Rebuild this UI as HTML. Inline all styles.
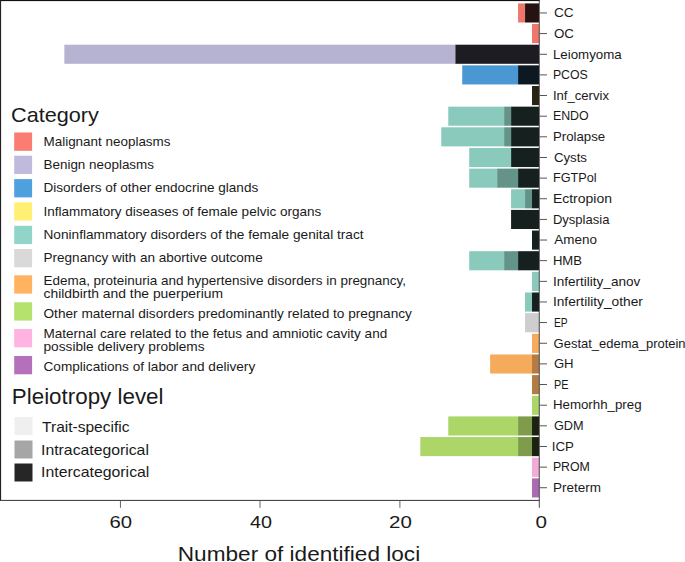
<!DOCTYPE html><html><head><meta charset="utf-8"><style>html,body{margin:0;padding:0;background:#fff;overflow:hidden;width:685px;height:562px;}svg{display:block;}text{font-family:"Liberation Sans",sans-serif;fill:#1a1a1a;}</style></head><body>
<svg width="685" height="562" viewBox="0 0 685 562">
<rect x="525.04" y="3.40" width="13.96" height="19.1" fill="#261311"/>
<rect x="518.06" y="3.40" width="6.98" height="19.1" fill="#ee766a"/>
<text x="553.90" y="17.26" font-size="13.4" textLength="19.70" lengthAdjust="spacingAndGlyphs">CC</text>
<rect x="539.6" y="12.51" width="7.4" height="0.9" fill="#444"/>
<rect x="532.02" y="24.05" width="6.98" height="19.1" fill="#ee766a"/>
<text x="553.90" y="37.90" font-size="13.4" textLength="20.00" lengthAdjust="spacingAndGlyphs">OC</text>
<rect x="539.6" y="33.15" width="7.4" height="0.9" fill="#444"/>
<rect x="455.24" y="44.70" width="83.76" height="19.1" fill="#1d1c22"/>
<rect x="64.36" y="44.70" width="390.88" height="19.1" fill="#b6b2d2"/>
<text x="552.90" y="58.55" font-size="13.4" textLength="68.80" lengthAdjust="spacingAndGlyphs">Leiomyoma</text>
<rect x="539.6" y="53.80" width="7.4" height="0.9" fill="#444"/>
<rect x="518.06" y="65.35" width="20.94" height="19.1" fill="#0c1822"/>
<rect x="462.22" y="65.35" width="55.84" height="19.1" fill="#4a98d3"/>
<text x="552.90" y="79.19" font-size="13.4" textLength="34.90" lengthAdjust="spacingAndGlyphs">PCOS</text>
<rect x="539.6" y="74.44" width="7.4" height="0.9" fill="#444"/>
<rect x="532.02" y="86.00" width="6.98" height="19.1" fill="#282412"/>
<text x="552.90" y="99.83" font-size="13.4" textLength="56.10" lengthAdjust="spacingAndGlyphs">Inf_cervix</text>
<rect x="539.6" y="95.08" width="7.4" height="0.9" fill="#444"/>
<rect x="511.08" y="106.65" width="27.92" height="19.1" fill="#16201e"/>
<rect x="504.10" y="106.65" width="6.98" height="19.1" fill="#64938a"/>
<rect x="448.26" y="106.65" width="55.84" height="19.1" fill="#89cabd"/>
<text x="552.90" y="120.48" font-size="13.4" textLength="35.70" lengthAdjust="spacingAndGlyphs">ENDO</text>
<rect x="539.6" y="115.73" width="7.4" height="0.9" fill="#444"/>
<rect x="511.08" y="127.30" width="27.92" height="19.1" fill="#16201e"/>
<rect x="504.10" y="127.30" width="6.98" height="19.1" fill="#64938a"/>
<rect x="441.28" y="127.30" width="62.82" height="19.1" fill="#89cabd"/>
<text x="552.90" y="141.12" font-size="13.4" textLength="52.30" lengthAdjust="spacingAndGlyphs">Prolapse</text>
<rect x="539.6" y="136.37" width="7.4" height="0.9" fill="#444"/>
<rect x="511.08" y="147.95" width="27.92" height="19.1" fill="#16201e"/>
<rect x="469.20" y="147.95" width="41.88" height="19.1" fill="#89cabd"/>
<text x="553.90" y="161.76" font-size="13.4" textLength="33.10" lengthAdjust="spacingAndGlyphs">Cysts</text>
<rect x="539.6" y="157.01" width="7.4" height="0.9" fill="#444"/>
<rect x="518.06" y="168.60" width="20.94" height="19.1" fill="#16201e"/>
<rect x="497.12" y="168.60" width="20.94" height="19.1" fill="#64938a"/>
<rect x="469.20" y="168.60" width="27.92" height="19.1" fill="#89cabd"/>
<text x="552.90" y="182.40" font-size="13.4" textLength="43.70" lengthAdjust="spacingAndGlyphs">FGTPol</text>
<rect x="539.6" y="177.65" width="7.4" height="0.9" fill="#444"/>
<rect x="532.02" y="189.25" width="6.98" height="19.1" fill="#16201e"/>
<rect x="525.04" y="189.25" width="6.98" height="19.1" fill="#64938a"/>
<rect x="511.08" y="189.25" width="13.96" height="19.1" fill="#89cabd"/>
<text x="552.90" y="203.05" font-size="13.4" textLength="59.10" lengthAdjust="spacingAndGlyphs">Ectropion</text>
<rect x="539.6" y="198.30" width="7.4" height="0.9" fill="#444"/>
<rect x="511.08" y="209.90" width="27.92" height="19.1" fill="#16201e"/>
<text x="552.90" y="223.69" font-size="13.4" textLength="56.50" lengthAdjust="spacingAndGlyphs">Dysplasia</text>
<rect x="539.6" y="218.94" width="7.4" height="0.9" fill="#444"/>
<rect x="532.02" y="230.55" width="6.98" height="19.1" fill="#16201e"/>
<text x="554.30" y="244.33" font-size="13.4" textLength="42.60" lengthAdjust="spacingAndGlyphs">Ameno</text>
<rect x="539.6" y="239.58" width="7.4" height="0.9" fill="#444"/>
<rect x="518.06" y="251.20" width="20.94" height="19.1" fill="#16201e"/>
<rect x="504.10" y="251.20" width="13.96" height="19.1" fill="#64938a"/>
<rect x="469.20" y="251.20" width="34.90" height="19.1" fill="#89cabd"/>
<text x="552.90" y="264.98" font-size="13.4" textLength="29.10" lengthAdjust="spacingAndGlyphs">HMB</text>
<rect x="539.6" y="260.23" width="7.4" height="0.9" fill="#444"/>
<rect x="532.02" y="271.85" width="6.98" height="19.1" fill="#89cabd"/>
<text x="552.90" y="285.62" font-size="13.4" textLength="87.40" lengthAdjust="spacingAndGlyphs">Infertility_anov</text>
<rect x="539.6" y="280.87" width="7.4" height="0.9" fill="#444"/>
<rect x="532.02" y="292.50" width="6.98" height="19.1" fill="#16201e"/>
<rect x="525.04" y="292.50" width="6.98" height="19.1" fill="#89cabd"/>
<text x="552.90" y="306.26" font-size="13.4" textLength="90.00" lengthAdjust="spacingAndGlyphs">Infertility_other</text>
<rect x="539.6" y="301.51" width="7.4" height="0.9" fill="#444"/>
<rect x="525.04" y="313.15" width="13.96" height="19.1" fill="#cecece"/>
<text x="553.90" y="326.90" font-size="13.4" textLength="13.70" lengthAdjust="spacingAndGlyphs">EP</text>
<rect x="539.6" y="322.15" width="7.4" height="0.9" fill="#444"/>
<rect x="532.02" y="333.80" width="6.98" height="19.1" fill="#f6aa5c"/>
<text x="553.6" y="347.55" font-size="13.4" textLength="132" lengthAdjust="spacingAndGlyphs">Gestat_edema_protein</text>
<rect x="539.6" y="342.80" width="7.4" height="0.9" fill="#444"/>
<rect x="532.02" y="354.45" width="6.98" height="19.1" fill="#b47c43"/>
<rect x="490.14" y="354.45" width="41.88" height="19.1" fill="#f6aa5c"/>
<text x="553.90" y="368.19" font-size="13.4" textLength="19.70" lengthAdjust="spacingAndGlyphs">GH</text>
<rect x="539.6" y="363.44" width="7.4" height="0.9" fill="#444"/>
<rect x="532.02" y="375.10" width="6.98" height="19.1" fill="#b47c43"/>
<text x="553.90" y="388.83" font-size="13.4" textLength="14.50" lengthAdjust="spacingAndGlyphs">PE</text>
<rect x="539.6" y="384.08" width="7.4" height="0.9" fill="#444"/>
<rect x="532.02" y="395.75" width="6.98" height="19.1" fill="#acd668"/>
<text x="552.90" y="409.48" font-size="13.4" textLength="88.70" lengthAdjust="spacingAndGlyphs">Hemorhh_preg</text>
<rect x="539.6" y="404.73" width="7.4" height="0.9" fill="#444"/>
<rect x="532.02" y="416.40" width="6.98" height="19.1" fill="#1c2211"/>
<rect x="518.06" y="416.40" width="13.96" height="19.1" fill="#7e9c4c"/>
<rect x="448.26" y="416.40" width="69.80" height="19.1" fill="#acd668"/>
<text x="553.90" y="430.12" font-size="13.4" textLength="29.60" lengthAdjust="spacingAndGlyphs">GDM</text>
<rect x="539.6" y="425.37" width="7.4" height="0.9" fill="#444"/>
<rect x="532.02" y="437.05" width="6.98" height="19.1" fill="#1c2211"/>
<rect x="518.06" y="437.05" width="13.96" height="19.1" fill="#7e9c4c"/>
<rect x="420.34" y="437.05" width="97.72" height="19.1" fill="#acd668"/>
<text x="551.80" y="450.76" font-size="13.4" textLength="22.10" lengthAdjust="spacingAndGlyphs">ICP</text>
<rect x="539.6" y="446.01" width="7.4" height="0.9" fill="#444"/>
<rect x="532.02" y="457.70" width="6.98" height="19.1" fill="#f2aad6"/>
<text x="552.90" y="471.41" font-size="13.4" textLength="37.00" lengthAdjust="spacingAndGlyphs">PROM</text>
<rect x="539.6" y="466.66" width="7.4" height="0.9" fill="#444"/>
<rect x="532.02" y="478.35" width="6.98" height="19.1" fill="#ac6ab2"/>
<text x="552.90" y="492.05" font-size="13.4" textLength="48.00" lengthAdjust="spacingAndGlyphs">Preterm</text>
<rect x="539.6" y="487.30" width="7.4" height="0.9" fill="#444"/>
<rect x="0" y="0" width="539.6" height="1.1" fill="#111"/>
<rect x="0" y="0" width="1.1" height="500.3" fill="#222"/>
<rect x="0" y="499.9" width="539.6" height="1" fill="#333"/>
<rect x="538.8" y="0" width="0.9" height="507.8" fill="#333"/>
<rect x="119.95" y="500.8" width="0.9" height="7" fill="#555"/>
<text x="109.50" y="528.00" font-size="17.3" textLength="22.60" lengthAdjust="spacingAndGlyphs">60</text>
<rect x="259.55" y="500.8" width="0.9" height="7" fill="#555"/>
<text x="250.10" y="528.00" font-size="17.3" textLength="22.00" lengthAdjust="spacingAndGlyphs">40</text>
<rect x="399.45" y="500.8" width="0.9" height="7" fill="#555"/>
<text x="389.10" y="528.00" font-size="17.3" textLength="22.80" lengthAdjust="spacingAndGlyphs">20</text>
<text x="535.60" y="528.00" font-size="17.3" textLength="11.50" lengthAdjust="spacingAndGlyphs">0</text>
<text x="177.80" y="560.60" font-size="20.4" textLength="242.40" lengthAdjust="spacingAndGlyphs">Number of identified loci</text>
<text x="11.00" y="121.70" font-size="21" textLength="87.90" lengthAdjust="spacingAndGlyphs">Category</text>
<rect x="14.2" y="132.5" width="17.9" height="18.3" fill="#fb7c70"/>
<text x="43.50" y="145.70" font-size="13" textLength="127.00" lengthAdjust="spacingAndGlyphs">Malignant neoplasms</text>
<rect x="14.2" y="155.7" width="17.9" height="18.3" fill="#c0bbdd"/>
<text x="43.50" y="169.20" font-size="13" textLength="110.50" lengthAdjust="spacingAndGlyphs">Benign neoplasms</text>
<rect x="14.2" y="179.1" width="17.9" height="18.3" fill="#4ea0de"/>
<text x="43.50" y="192.30" font-size="13" textLength="214.70" lengthAdjust="spacingAndGlyphs">Disorders of other endocrine glands</text>
<rect x="14.2" y="202.3" width="17.9" height="18.3" fill="#fff074"/>
<text x="43.50" y="215.50" font-size="13" textLength="277.70" lengthAdjust="spacingAndGlyphs">Inflammatory diseases of female pelvic organs</text>
<rect x="14.2" y="225.8" width="17.9" height="18.3" fill="#90d5c7"/>
<text x="43.50" y="239.00" font-size="13" textLength="320.00" lengthAdjust="spacingAndGlyphs">Noninflammatory disorders of the female genital tract</text>
<rect x="14.2" y="249" width="17.9" height="18.3" fill="#d9d9d9"/>
<text x="43.50" y="262.20" font-size="13" textLength="219.20" lengthAdjust="spacingAndGlyphs">Pregnancy with an abortive outcome</text>
<rect x="14.2" y="275.3" width="17.9" height="18.3" fill="#ffb361"/>
<text x="43.50" y="285.00" font-size="13" textLength="362.50" lengthAdjust="spacingAndGlyphs">Edema, proteinuria and hypertensive disorders in pregnancy,</text>
<text x="43.50" y="298.30" font-size="13" textLength="179.50" lengthAdjust="spacingAndGlyphs">childbirth and the puerperium</text>
<rect x="14.2" y="302.3" width="17.9" height="18.3" fill="#b5e16d"/>
<text x="43.50" y="317.60" font-size="13" textLength="368.40" lengthAdjust="spacingAndGlyphs">Other maternal disorders predominantly related to pregnancy</text>
<rect x="14.2" y="329" width="17.9" height="18.3" fill="#ffb3e1"/>
<text x="43.50" y="338.20" font-size="13" textLength="343.70" lengthAdjust="spacingAndGlyphs">Maternal care related to the fetus and amniotic cavity and</text>
<text x="43.50" y="351.30" font-size="13" textLength="161.10" lengthAdjust="spacingAndGlyphs">possible delivery problems</text>
<rect x="14.2" y="356" width="17.9" height="18.3" fill="#b570bb"/>
<text x="43.50" y="370.70" font-size="13" textLength="211.70" lengthAdjust="spacingAndGlyphs">Complications of labor and delivery</text>
<text x="11.80" y="404.10" font-size="21.2" textLength="151.70" lengthAdjust="spacingAndGlyphs">Pleiotropy level</text>
<rect x="14.5" y="417" width="18" height="18" fill="#efefef"/>
<text x="42.10" y="432.10" font-size="15" textLength="87.40" lengthAdjust="spacingAndGlyphs">Trait-specific</text>
<rect x="14.5" y="440.5" width="18" height="18" fill="#a6a6a6"/>
<text x="41.10" y="455.00" font-size="15" textLength="107.80" lengthAdjust="spacingAndGlyphs">Intracategorical</text>
<rect x="14.5" y="463.5" width="18" height="18" fill="#262626"/>
<text x="41.10" y="477.10" font-size="15" textLength="108.30" lengthAdjust="spacingAndGlyphs">Intercategorical</text>
</svg></body></html>
